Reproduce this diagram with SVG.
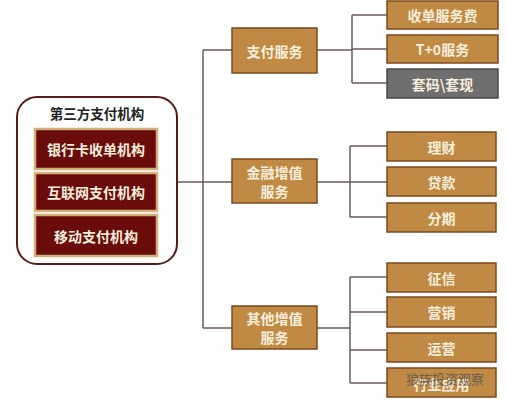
<svg xmlns="http://www.w3.org/2000/svg" width="507" height="400" viewBox="0 0 507 400">
<style>
.t{font-family:"Noto Sans CJK SC","Noto Sans CJK TC",sans-serif;font-size:14px;font-weight:bold;fill:#f7efdc;text-anchor:middle;dominant-baseline:central}
.box{fill:#c08a45;stroke:#7a4a1c;stroke-width:1.5}
.grey{fill:#6e6e6e;stroke:#4a4a4a;stroke-width:1.5}
.red{fill:#6a0c0c;stroke:#d2b07a;stroke-width:2.5}
.ln{fill:none;stroke:#6b5a5a;stroke-width:1.5}
</style>
<rect width="507" height="400" fill="#ffffff"/>
<g id="connectors">
<path class="ln" d="M177,182 H203 M203,50 V328 M203,50 H232 M203,182 H232 M203,328 H232"/>
<path class="ln" d="M317,50 H352 M352,15 V83 M352,15 H387 M352,49 H387 M352,83 H387"/>
<path class="ln" d="M317,182 H350 M350,146 V217 M350,146 H387 M350,182 H387 M350,217 H387"/>
<path class="ln" d="M317,328 H350 M350,277 V383 M350,277 H387 M350,312 H387 M350,350 H387 M350,383 H387"/>
</g>
<g id="container">
<rect x="17" y="97" width="160" height="167" rx="20" fill="#ffffff" stroke="#5a1a1a" stroke-width="2"/>
<text x="97" y="113" class="t" style="fill:#222;font-size:13.5px">第三方支付机构</text>
</g>
<g id="n-bank"><rect class="red" x="35" y="129" width="122" height="40"/><text class="t" x="96" y="149">银行卡收单机构</text></g>
<g id="n-internet"><rect class="red" x="35" y="173" width="122" height="38"/><text class="t" x="96" y="192">互联网支付机构</text></g>
<g id="n-mobile"><rect class="red" x="35" y="215" width="122" height="41"/><text class="t" x="96" y="236">移动支付机构</text></g>
<g id="n-pay"><rect class="box" x="232" y="28" width="85" height="45"/><text class="t" x="274.5" y="50.5">支付服务</text></g>
<g id="n-fin"><rect class="box" x="232" y="159" width="85" height="44"/><text class="t" x="274.5" y="172">金融增值</text><text class="t" x="274.5" y="191">服务</text></g>
<g id="n-other"><rect class="box" x="232" y="306" width="85" height="43"/><text class="t" x="274.5" y="318">其他增值</text><text class="t" x="274.5" y="337">服务</text></g>
<g id="n-fee"><rect class="box" x="387" y="1" width="111" height="28"/><text class="t" x="442.5" y="15">收单服务费</text></g>
<g id="n-t0"><rect class="box" x="387" y="35" width="111" height="28"/><text class="t" x="442.5" y="49">T+0服务</text></g>
<g id="n-tao"><rect class="grey" x="387" y="69" width="111" height="29"/><text class="t" x="442.5" y="83.5">套码\套现</text></g>
<g id="n-licai"><rect class="box" x="387" y="132" width="109" height="29"/><text class="t" x="441.5" y="146.5">理财</text></g>
<g id="n-daikuan"><rect class="box" x="387" y="167" width="109" height="29"/><text class="t" x="441.5" y="181.5">贷款</text></g>
<g id="n-fenqi"><rect class="box" x="387" y="203" width="109" height="29"/><text class="t" x="441.5" y="217.5">分期</text></g>
<g id="n-zx"><rect class="box" x="387" y="263" width="109" height="29"/><text class="t" x="441.5" y="277.5">征信</text></g>
<g id="n-yx"><rect class="box" x="387" y="297" width="109" height="30"/><text class="t" x="441.5" y="312">营销</text></g>
<g id="n-yy"><rect class="box" x="387" y="333" width="109" height="29"/><text class="t" x="441.5" y="347.5">运营</text></g>
<g id="n-hy"><rect class="box" x="387" y="368" width="109" height="29"/><text class="t" x="441.5" y="384">行业应用</text></g>
<g id="watermark"><text x="445" y="378" style="font-family:'Noto Sans CJK SC',sans-serif;font-size:13px;fill:#555;fill-opacity:0.85;text-anchor:middle;dominant-baseline:central">狼族投资观察</text></g>
</svg>
